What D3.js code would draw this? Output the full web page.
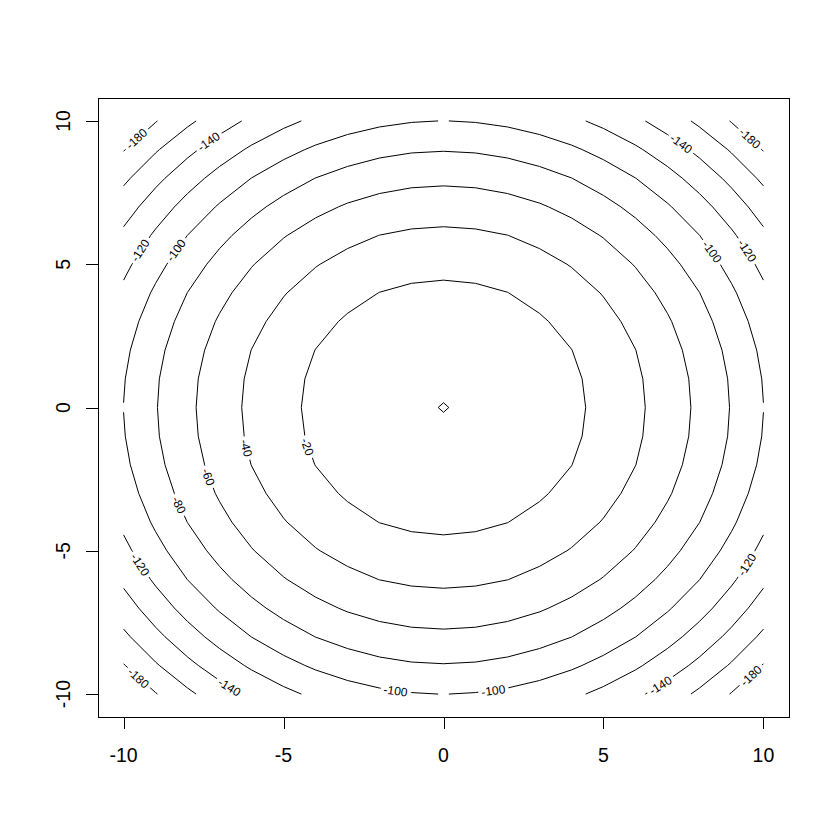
<!DOCTYPE html>
<html>
<head>
<meta charset="utf-8">
<style>
  body { margin: 0; background: #fff; }
  text { font-family: "Liberation Sans", Arial, sans-serif; fill: #000; }
</style>
</head>
<body>
<script src="https://cdn.jsdelivr.net/npm/d3@7/dist/d3.min.js"></script>
<script>
// grid the surface was sampled on
var xs = [-10,-9,-8,-7,-6,-5,-4,-3,-2,-1,0,1,2,3,4,5,6,7,8,9,10];
var ys = [-10,-9,-8,-7,-6,-5,-4,-3,-2,-1,0,1,2,3,4,5,6,7,8,9,10];
// contour levels
var levels = [0,-20,-40,-60,-80,-100,-120,-140,-160,-180,-200];
// contour labels, positions (data units)
var labLevel = [-180,-140,-120,-100, -140,-180,-100,-120, -120,-180,-140, -120,-140,-180, -20,-40,-60,-80, -100,-100];
var labX = [-9.56,-7.34,-9.41,-8.29, 7.40,9.53,8.34,9.43, -9.53,-9.63,-6.73, 9.53,6.84,9.69, -4.28,-6.19,-7.38,-8.29, -1.5,1.56];
var labY = [9.34,9.28,5.44,5.44, 9.17,9.35,5.40,5.44, -5.51,-9.53,-9.81, -5.51,-9.78,-9.43, -1.38,-1.42,-2.43,-3.41, -9.9,-9.9];
var xTicks = [-10,-5,0,5,10];
var yTicks = [-10,-5,0,5,10];

// surface z = -(x^2 + y^2)
var z = xs.map(function(a) { return ys.map(function(b) { return -(a*a + b*b); }); });
var zmin = d3.min(z, function(r) { return d3.min(r); }),
    zmax = d3.max(z, function(r) { return d3.max(r); });
var atom = 1e-3 * (zmax - zmin);

var W = 840, H = 840;
var svg = d3.select("body").append("svg").attr("width", W).attr("height", H);

var x = d3.scaleLinear().domain([-10.8, 10.8]).range([98, 789]);
var y = d3.scaleLinear().domain([-10.8, 10.8]).range([717, 98]);

function cross(z0, z1, zc) {
  if ((z0 - zc) * (z1 - zc) < 0) return (zc - z0) / (z1 - z0);
  return null;
}

function segments(zc) {
  var segs = [];
  for (var i = 0; i < xs.length - 1; i++) {
    for (var j = 0; j < ys.length - 1; j++) {
      var xl = xs[i], xh = xs[i+1], yl = ys[j], yh = ys[j+1];
      var zll = z[i][j], zhl = z[i+1][j], zlh = z[i][j+1], zhh = z[i+1][j+1];
      if (zll == zc) zll += atom;
      if (zhl == zc) zhl += atom;
      if (zlh == zc) zlh += atom;
      if (zhh == zc) zhh += atom;
      var p = [], f;
      if ((f = cross(zll, zhl, zc)) !== null) p.push([xl + f*(xh-xl), yl]);
      if ((f = cross(zll, zlh, zc)) !== null) p.push([xl, yl + f*(yh-yl)]);
      if ((f = cross(zhl, zhh, zc)) !== null) p.push([xh, yl + f*(yh-yl)]);
      if ((f = cross(zlh, zhh, zc)) !== null) p.push([xl + f*(xh-xl), yh]);
      if (p.length == 2) segs.push(p);
      else if (p.length == 4) { segs.push([p[0], p[1]]); segs.push([p[2], p[3]]); }
    }
  }
  return segs;
}

var g = svg.append("g");

g.selectAll("path.ctr")
  .data(levels)
  .enter().append("path")
  .attr("class", "ctr")
  .attr("fill", "none")
  .attr("stroke", "#000")
  .attr("stroke-width", 1)
  .attr("d", function(lev) {
    return segments(lev).map(function(s) {
      return "M" + x(s[0][0]) + "," + y(s[0][1]) + "L" + x(s[1][0]) + "," + y(s[1][1]);
    }).join("");
  });

// labels sit on the line with a white gap
var kx = x(1) - x(0), ky = y(1) - y(0);
var labels = g.selectAll("g.lab")
  .data(labLevel.map(function(l, i) {
    var r = Math.sqrt(-l), a = Math.atan2(labY[i], labX[i]);
    var px = r * Math.cos(a), py = r * Math.sin(a);
    var ang = Math.atan2(px * ky, -py * kx) * 180 / Math.PI;
    if (ang > 90) ang -= 180;
    if (ang <= -90) ang += 180;
    return {level: l, x: px, y: py, ang: ang};
  }))
  .enter().append("g")
  .attr("class", "lab")
  .attr("transform", function(d) { return "translate(" + x(d.x) + "," + y(d.y) + ") rotate(" + d.ang + ")"; });

labels.append("rect").attr("fill", "#fff");
labels.append("text")
  .attr("font-size", 12)
  .attr("text-anchor", "middle")
  .attr("dy", "0.35em")
  .text(function(d) { return d.level; });
labels.each(function() {
  var t = d3.select(this).select("text").node().getBBox();
  d3.select(this).select("rect")
    .attr("x", t.x - 3).attr("y", t.y + 1)
    .attr("width", t.width + 6).attr("height", t.height - 2);
});

// box
svg.append("rect")
  .attr("x", 98).attr("y", 98)
  .attr("width", 789 - 98).attr("height", 717 - 98)
  .attr("fill", "none").attr("stroke", "#000")
  .attr("shape-rendering", "crispEdges");

// x axis
var xa = svg.append("g");
xa.selectAll("line").data(xTicks).enter().append("line")
  .attr("x1", function(d) { return Math.round(x(d)) + 0.5; })
  .attr("x2", function(d) { return Math.round(x(d)) + 0.5; })
  .attr("y1", 717).attr("y2", 729)
  .attr("stroke", "#000").attr("shape-rendering", "crispEdges");
xa.selectAll("text").data(xTicks).enter().append("text")
  .attr("x", function(d) { return x(d); })
  .attr("y", 755)
  .attr("dy", "0.35em")
  .attr("text-anchor", "middle")
  .attr("font-size", 19.5)
  .text(function(d) { return d; });

// y axis
var ya = svg.append("g");
ya.selectAll("line").data(yTicks).enter().append("line")
  .attr("y1", function(d) { return Math.round(y(d)) + 0.5; })
  .attr("y2", function(d) { return Math.round(y(d)) + 0.5; })
  .attr("x1", 86).attr("x2", 98)
  .attr("stroke", "#000").attr("shape-rendering", "crispEdges");
ya.selectAll("text").data(yTicks).enter().append("text")
  .attr("transform", function(d) { return "translate(63," + y(d) + ") rotate(-90)"; })
  .attr("dy", "0.35em")
  .attr("text-anchor", "middle")
  .attr("font-size", 19.5)
  .text(function(d) { return d; });
</script>
</body>
</html>
